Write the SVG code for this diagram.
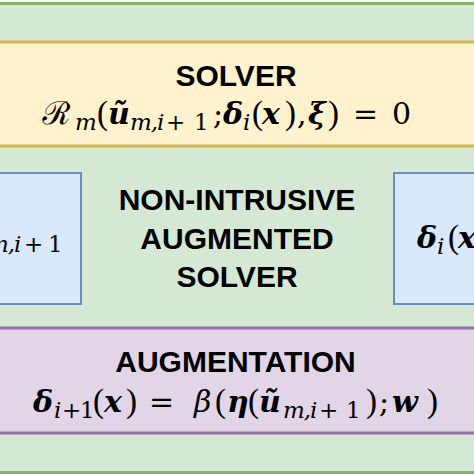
<svg xmlns="http://www.w3.org/2000/svg" width="474" height="474" viewBox="0 0 474 474">
<style>
.title{font-family:"Liberation Sans",Arial,sans-serif;font-weight:bold;font-size:30px;fill:#000;text-anchor:middle}
.m{font-family:"DejaVu Serif",serif;font-size:30px;fill:#000}
.p{font-family:"Liberation Serif",serif;font-size:33px}
.b{font-weight:bold;font-style:italic}
.it{font-style:italic}
.s{font-size:23px}
.mi{letter-spacing:-1px}
.scr{font-family:"DejaVu Serif","Noto Sans",serif;font-style:italic;font-size:32px}
</style>
<g id="container">
<rect x="-10" y="3.5" width="494" height="469" fill="#d5e8d4" stroke="#82b366" stroke-width="3"/>
<text class="title" x="237" y="210">NON-INTRUSIVE</text>
<text class="title" x="237" y="249">AUGMENTED</text>
<text class="title" x="237" y="287">SOLVER</text>
</g>
<g id="solver">
<rect x="-10" y="42" width="494" height="104" fill="#fff2cc" stroke="#d6b656" stroke-width="3"/>
<text class="title" x="236" y="85.5">SOLVER</text>
<text class="m" y="124"><tspan class="scr" x="42">ℛ</tspan><tspan class="s it" x="75" y="130">m</tspan><tspan class="p" x="97" y="124">(</tspan><tspan class="b" x="108">ũ</tspan><tspan class="s it mi" x="130" y="130">m,i</tspan><tspan class="s" x="166">+</tspan><tspan class="s" x="194">1</tspan><tspan x="213" y="124">;</tspan><tspan class="b" x="223">δ</tspan><tspan class="s it" x="243" y="130">i</tspan><tspan class="p" x="252" y="124">(</tspan><tspan class="b" x="262">x</tspan><tspan class="p" x="285">)</tspan><tspan x="297">,</tspan><tspan class="b" x="308">ξ</tspan><tspan class="p" x="328">)</tspan><tspan x="353">=</tspan><tspan x="392">0</tspan></text>
</g>
<g id="augmentation">
<rect x="-10" y="328" width="494" height="105" fill="#e1d5e7" stroke="#9673a6" stroke-width="3"/>
<text class="title" x="235.5" y="372">AUGMENTATION</text>
<text class="m" y="412"><tspan class="b" x="33">δ</tspan><tspan class="s it" x="54" y="418">i</tspan><tspan class="s" x="62">+</tspan><tspan class="s" x="80">1</tspan><tspan class="p" x="93" y="412">(</tspan><tspan class="b" x="104">x</tspan><tspan class="p" x="126">)</tspan><tspan x="149">=</tspan><tspan class="it" x="194">β</tspan><tspan class="p" x="215">(</tspan><tspan class="b" x="227">η</tspan><tspan class="p" x="248">(</tspan><tspan class="b" x="259">ũ</tspan><tspan class="s it mi" x="283" y="418">m,i</tspan><tspan class="s" x="319">+</tspan><tspan class="s" x="346">1</tspan><tspan class="p" x="366" y="412">)</tspan><tspan x="379">;</tspan><tspan class="b" x="392">w</tspan><tspan class="p" x="427">)</tspan></text>
</g>
<g id="input-left">
<rect x="-60" y="173" width="141" height="131" fill="#dae8fc" stroke="#6c8ebf" stroke-width="2"/>
<text class="m" y="246"><tspan class="b" x="-36">ũ</tspan><tspan class="s it mi" x="-13" y="252">m,i</tspan><tspan class="s" x="24">+</tspan><tspan class="s" x="48">1</tspan></text>
</g>
<g id="input-right">
<rect x="394" y="173" width="141" height="131" fill="#dae8fc" stroke="#6c8ebf" stroke-width="2"/>
<text class="m" y="248"><tspan class="b" x="417">δ</tspan><tspan class="s it" x="437" y="254">i</tspan><tspan class="p" x="448" y="248">(</tspan><tspan class="b" x="458">x</tspan><tspan class="p" x="482">)</tspan></text>
</g>
<g id="connectors"></g>
</svg>
